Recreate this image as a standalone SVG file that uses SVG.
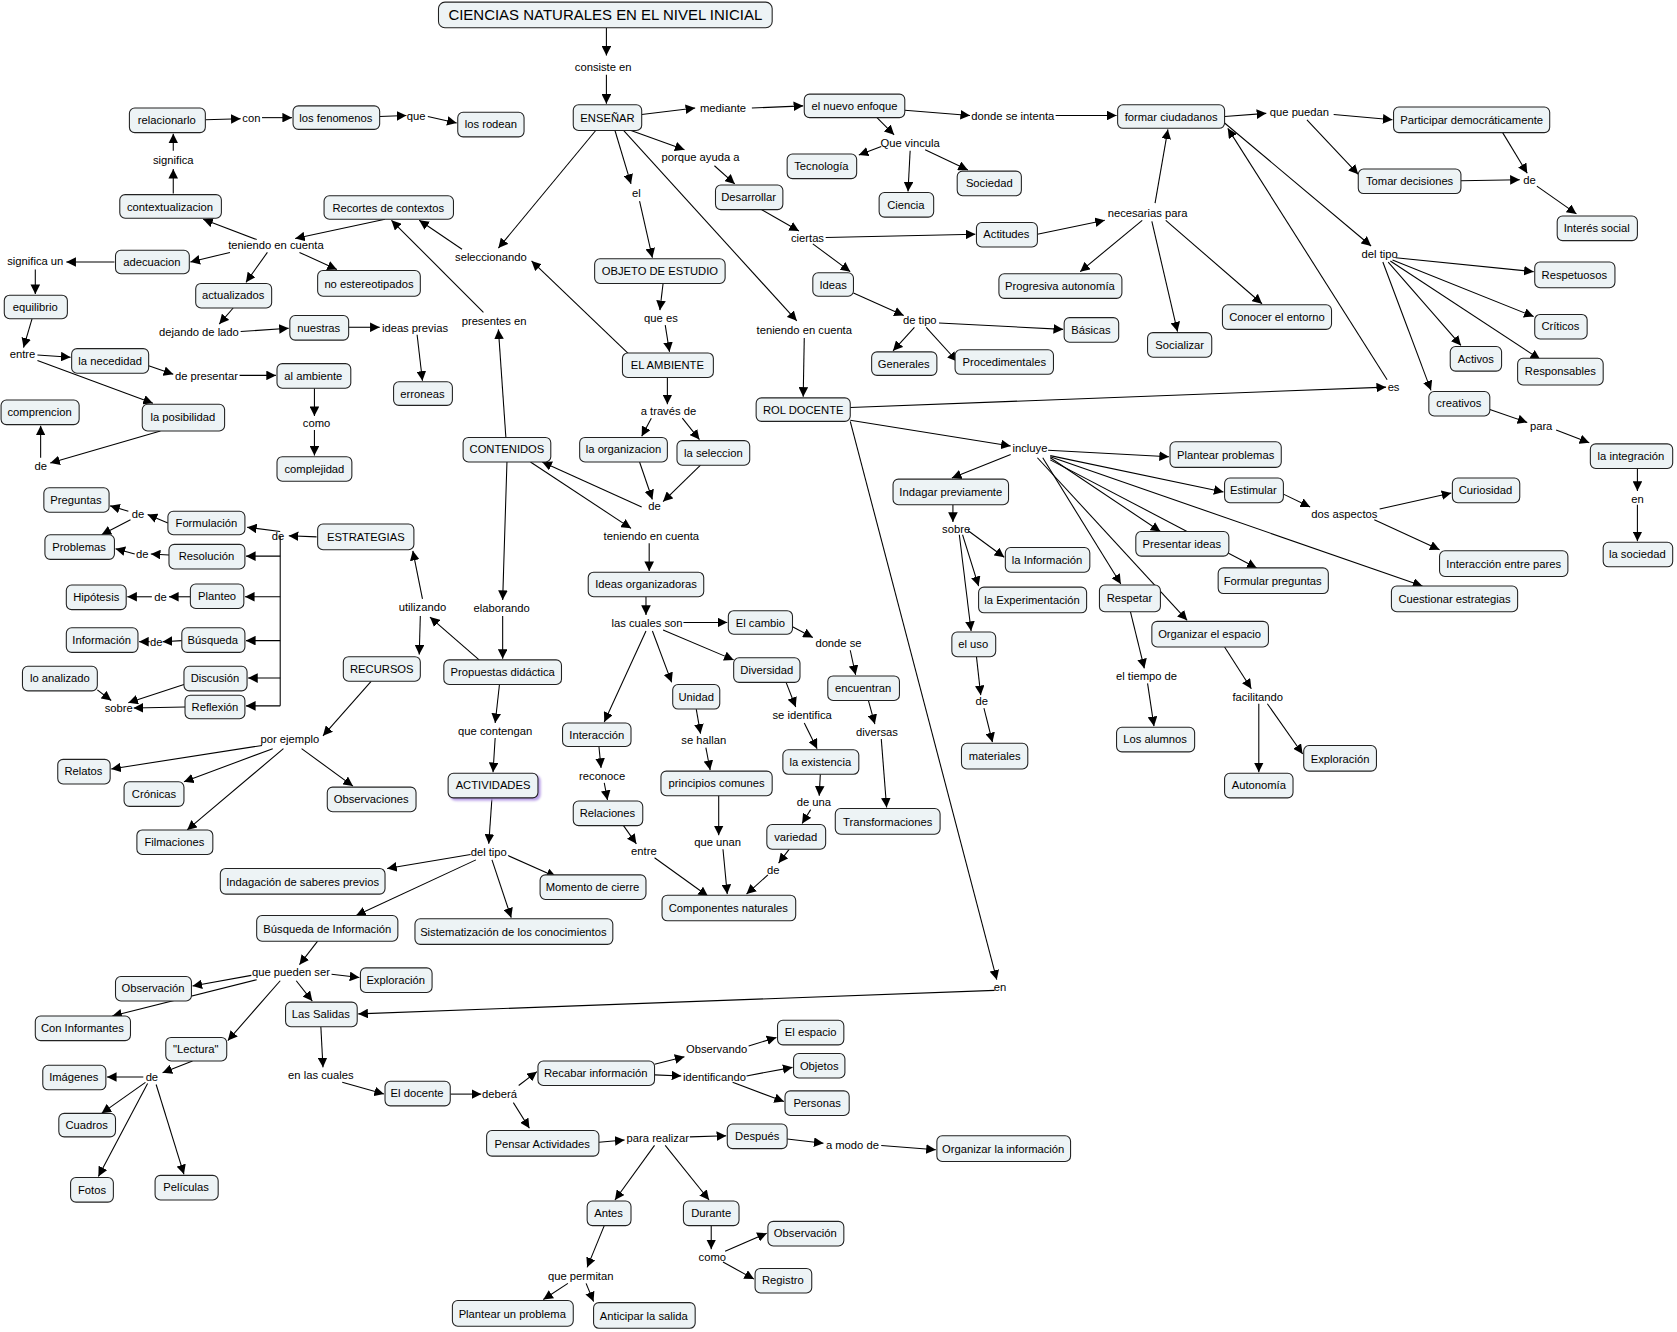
<svg xmlns="http://www.w3.org/2000/svg" width="1677" height="1332" viewBox="0 0 1677 1332">
<defs>
<style>
.n rect{fill:#edf3f5;stroke:#222;stroke-width:1;}
text{font-family:"Liberation Sans",Arial,sans-serif;font-size:10.5px;fill:#000;text-anchor:middle;}
.t{font-size:14px;}
.e line{stroke:#000;stroke-width:1;marker-end:url(#a);}
.l text{font-size:10.5px;}
</style>
<marker id="a" viewBox="0 0 10 10" refX="10" refY="5" markerWidth="9" markerHeight="9" markerUnits="userSpaceOnUse" orient="auto"><path d="M0,0L10,5L0,10z" fill="#000"/></marker>
</defs>
<rect width="1677" height="1332" fill="#fff"/>
<g transform="scale(1.0695)">
<g class="e">
<line x1="567" y1="26" x2="567" y2="52"/><line x1="567" y1="70" x2="567" y2="97"/>
<line x1="600" y1="107" x2="650" y2="101"/><line x1="703" y1="101" x2="751" y2="99"/>
<line x1="820" y1="110" x2="836" y2="126"/><line x1="824" y1="137" x2="803" y2="145"/>
<line x1="851" y1="141" x2="849" y2="179"/><line x1="865" y1="140" x2="905" y2="159"/>
<line x1="846" y1="103" x2="907" y2="108"/><line x1="987" y1="108" x2="1044" y2="108"/>
<line x1="1145" y1="109" x2="1184" y2="106"/><line x1="1247" y1="107" x2="1302" y2="112"/>
<line x1="1222" y1="112" x2="1270" y2="163"/><line x1="1405" y1="124" x2="1428" y2="162"/>
<line x1="1366" y1="169" x2="1421" y2="168"/><line x1="1437" y1="174" x2="1474" y2="200"/>
<line x1="1145" y1="115" x2="1282" y2="230"/><line x1="1305" y1="241" x2="1434" y2="254"/>
<line x1="1302" y1="243" x2="1434" y2="296"/><line x1="1298" y1="245" x2="1366" y2="323"/>
<line x1="1300" y1="244" x2="1440" y2="336"/><line x1="1293" y1="245" x2="1338" y2="365"/>
<line x1="1393" y1="383" x2="1428" y2="395"/><line x1="1455" y1="402" x2="1486" y2="414"/>
<line x1="1531" y1="438" x2="1531" y2="459"/><line x1="1531" y1="472" x2="1531" y2="506"/>
<line x1="795" y1="381" x2="1296" y2="362"/><line x1="1297" y1="355" x2="1148" y2="120"/>
<line x1="1080" y1="190" x2="1092" y2="121"/>
<line x1="590" y1="122" x2="640" y2="140"/><line x1="668" y1="155" x2="687" y2="172"/>
<line x1="712" y1="196" x2="747" y2="216"/><line x1="772" y1="222" x2="912" y2="219"/>
<line x1="760" y1="228" x2="795" y2="254"/><line x1="970" y1="219" x2="1033" y2="206"/>
<line x1="1068" y1="206" x2="1010" y2="254"/><line x1="1077" y1="207" x2="1101" y2="310"/>
<line x1="1090" y1="206" x2="1180" y2="284"/><line x1="798" y1="274" x2="845" y2="295"/>
<line x1="878" y1="302" x2="994" y2="308"/><line x1="855" y1="306" x2="835" y2="328"/>
<line x1="866" y1="306" x2="895" y2="338"/>
<line x1="575" y1="122" x2="590" y2="172"/><line x1="598" y1="188" x2="610" y2="241"/>
<line x1="620" y1="265" x2="617" y2="290"/><line x1="622" y1="304" x2="626" y2="329"/>
<line x1="624" y1="353" x2="624" y2="378"/><line x1="609" y1="391" x2="600" y2="408"/>
<line x1="638" y1="391" x2="654" y2="411"/><line x1="598" y1="432" x2="610" y2="467"/>
<line x1="655" y1="435" x2="620" y2="469"/><line x1="600" y1="474" x2="507" y2="432"/>
<line x1="496" y1="432" x2="590" y2="494"/><line x1="607" y1="508" x2="607" y2="534"/>
<line x1="583" y1="122" x2="745" y2="300"/><line x1="752" y1="316" x2="751" y2="371"/>
<line x1="557" y1="122" x2="466" y2="232"/><line x1="590" y1="333" x2="497" y2="244"/>
<line x1="473" y1="409" x2="466" y2="308"/><line x1="452" y1="292" x2="366" y2="206"/>
<line x1="432" y1="233" x2="392" y2="206"/>
<line x1="360" y1="205" x2="276" y2="223"/><line x1="240" y1="224" x2="190" y2="205"/>
<line x1="215" y1="236" x2="178" y2="245"/><line x1="250" y1="236" x2="230" y2="264"/>
<line x1="280" y1="236" x2="315" y2="252"/>
<line x1="162" y1="181" x2="162" y2="158"/><line x1="162" y1="141" x2="162" y2="125"/>
<line x1="192" y1="112" x2="225" y2="111"/><line x1="245" y1="110" x2="273" y2="110"/>
<line x1="355" y1="109" x2="380" y2="108"/><line x1="400" y1="109" x2="427" y2="115"/>
<line x1="107" y1="245" x2="62" y2="245"/><line x1="33" y1="252" x2="33" y2="275"/>
<line x1="218" y1="288" x2="205" y2="303"/><line x1="225" y1="310" x2="270" y2="307"/>
<line x1="326" y1="306" x2="355" y2="306"/><line x1="390" y1="313" x2="395" y2="356"/>
<line x1="30" y1="298" x2="22" y2="325"/><line x1="35" y1="332" x2="66" y2="334"/>
<line x1="35" y1="337" x2="143" y2="377"/><line x1="139" y1="342" x2="162" y2="350"/>
<line x1="224" y1="351" x2="258" y2="351"/><line x1="294" y1="363" x2="294" y2="389"/>
<line x1="294" y1="402" x2="294" y2="426"/><line x1="150" y1="403" x2="47" y2="433"/>
<line x1="38" y1="428" x2="38" y2="398"/>
<line x1="296" y1="502" x2="270" y2="501"/>
<line x1="262" y1="497" x2="231" y2="493"/><line x1="262" y1="520" x2="230" y2="520"/>
<line x1="262" y1="558" x2="229" y2="558"/><line x1="262" y1="599" x2="230" y2="599"/>
<line x1="262" y1="634" x2="232" y2="634"/><line x1="262" y1="660" x2="230" y2="660"/>
<line x1="157" y1="489" x2="138" y2="481"/><line x1="120" y1="478" x2="103" y2="473"/>
<line x1="122" y1="486" x2="95" y2="500"/><line x1="158" y1="519" x2="141" y2="518"/>
<line x1="126" y1="518" x2="108" y2="513"/><line x1="178" y1="558" x2="158" y2="558"/>
<line x1="142" y1="558" x2="119" y2="558"/><line x1="170" y1="599" x2="152" y2="600"/>
<line x1="140" y1="600" x2="130" y2="600"/><line x1="172" y1="640" x2="120" y2="657"/>
<line x1="173" y1="661" x2="125" y2="662"/><line x1="91" y1="645" x2="104" y2="655"/>
<line x1="393" y1="576" x2="392" y2="612"/><line x1="395" y1="560" x2="386" y2="515"/>
<line x1="448" y1="617" x2="402" y2="577"/>
<line x1="474" y1="432" x2="470" y2="561"/><line x1="470" y1="576" x2="470" y2="616"/>
<line x1="467" y1="640" x2="463" y2="676"/><line x1="463" y1="690" x2="461" y2="722"/>
<line x1="347" y1="637" x2="302" y2="688"/><line x1="245" y1="697" x2="104" y2="719"/>
<line x1="255" y1="700" x2="172" y2="731"/><line x1="265" y1="700" x2="175" y2="776"/>
<line x1="282" y1="700" x2="330" y2="735"/>
<line x1="460" y1="746" x2="457" y2="789"/><line x1="440" y1="799" x2="362" y2="812"/>
<line x1="475" y1="800" x2="520" y2="820"/><line x1="445" y1="804" x2="333" y2="856"/>
<line x1="460" y1="804" x2="478" y2="858"/>
<line x1="297" y1="880" x2="280" y2="902"/><line x1="310" y1="911" x2="336" y2="914"/>
<line x1="235" y1="912" x2="180" y2="922"/><line x1="240" y1="916" x2="105" y2="950"/>
<line x1="277" y1="917" x2="292" y2="936"/><line x1="262" y1="917" x2="213" y2="973"/>
<line x1="795" y1="394" x2="932" y2="916"/><line x1="930" y1="926" x2="335" y2="948"/>
<line x1="300" y1="960" x2="302" y2="998"/><line x1="320" y1="1012" x2="359" y2="1023"/>
<line x1="421" y1="1023" x2="450" y2="1023"/><line x1="485" y1="1015" x2="502" y2="1002"/>
<line x1="480" y1="1031" x2="495" y2="1055"/>
<line x1="612" y1="995" x2="640" y2="988"/><line x1="700" y1="978" x2="726" y2="970"/>
<line x1="612" y1="1005" x2="637" y2="1006"/><line x1="698" y1="1006" x2="741" y2="998"/>
<line x1="685" y1="1012" x2="733" y2="1030"/>
<line x1="180" y1="992" x2="152" y2="1003"/><line x1="134" y1="1007" x2="100" y2="1007"/>
<line x1="136" y1="1012" x2="95" y2="1041"/><line x1="138" y1="1013" x2="92" y2="1100"/>
<line x1="146" y1="1014" x2="172" y2="1098"/>
<line x1="560" y1="1068" x2="584" y2="1066"/><line x1="645" y1="1063" x2="679" y2="1062"/>
<line x1="612" y1="1071" x2="575" y2="1122"/><line x1="622" y1="1071" x2="663" y2="1122"/>
<line x1="736" y1="1065" x2="770" y2="1069"/><line x1="824" y1="1071" x2="875" y2="1075"/>
<line x1="665" y1="1146" x2="665" y2="1168"/><line x1="678" y1="1170" x2="717" y2="1153"/>
<line x1="676" y1="1180" x2="705" y2="1196"/>
<line x1="565" y1="1146" x2="549" y2="1185"/><line x1="531" y1="1200" x2="508" y2="1215"/>
<line x1="548" y1="1200" x2="555" y2="1217"/>
<line x1="604" y1="558" x2="604" y2="575"/><line x1="639" y1="582" x2="680" y2="582"/>
<line x1="741" y1="586" x2="760" y2="596"/><line x1="795" y1="608" x2="800" y2="631"/>
<line x1="812" y1="655" x2="818" y2="677"/><line x1="824" y1="691" x2="829" y2="755"/>
<line x1="620" y1="589" x2="686" y2="617"/><line x1="735" y1="638" x2="744" y2="661"/>
<line x1="752" y1="676" x2="764" y2="700"/><line x1="767" y1="724" x2="766" y2="744"/>
<line x1="758" y1="757" x2="750" y2="770"/><line x1="738" y1="794" x2="728" y2="807"/>
<line x1="718" y1="818" x2="698" y2="836"/>
<line x1="610" y1="590" x2="628" y2="638"/><line x1="651" y1="663" x2="655" y2="686"/>
<line x1="660" y1="699" x2="664" y2="720"/><line x1="672" y1="744" x2="672" y2="781"/>
<line x1="676" y1="794" x2="680" y2="836"/>
<line x1="604" y1="590" x2="565" y2="675"/><line x1="560" y1="698" x2="562" y2="718"/>
<line x1="565" y1="732" x2="568" y2="748"/><line x1="583" y1="772" x2="595" y2="789"/>
<line x1="612" y1="802" x2="662" y2="838"/>
<line x1="795" y1="393" x2="945" y2="417"/><line x1="945" y1="425" x2="890" y2="447"/>
<line x1="980" y1="421" x2="1093" y2="427"/><line x1="982" y1="426" x2="1144" y2="460"/>
<line x1="982" y1="428" x2="1085" y2="497"/><line x1="982" y1="430" x2="1175" y2="531"/>
<line x1="982" y1="427" x2="1330" y2="548"/><line x1="975" y1="428" x2="1048" y2="546"/>
<line x1="970" y1="428" x2="1110" y2="580"/>
<line x1="1200" y1="462" x2="1225" y2="474"/><line x1="1290" y1="476" x2="1357" y2="461"/>
<line x1="1285" y1="486" x2="1346" y2="514"/>
<line x1="891" y1="472" x2="891" y2="488"/><line x1="905" y1="496" x2="939" y2="521"/>
<line x1="900" y1="500" x2="915" y2="548"/><line x1="897" y1="500" x2="908" y2="590"/>
<line x1="913" y1="614" x2="917" y2="650"/><line x1="920" y1="662" x2="928" y2="694"/>
<line x1="1057" y1="572" x2="1070" y2="625"/><line x1="1073" y1="639" x2="1079" y2="679"/>
<line x1="1145" y1="605" x2="1170" y2="644"/><line x1="1177" y1="658" x2="1177" y2="722"/>
<line x1="1185" y1="658" x2="1218" y2="705"/>
</g>
<path d="M262,501V660" stroke="#000" fill="none"/>
<g class="l">
<text x="564" y="66">consiste en</text><text x="676" y="105">mediante</text><text x="851" y="137">Que vincula</text>
<text x="947" y="112">donde se intenta</text><text x="1215" y="108">que puedan</text><text x="1430" y="172">de</text>
<text x="1290" y="241">del tipo</text><text x="1303" y="366">es</text><text x="1441" y="402">para</text><text x="1531" y="470">en</text>
<text x="655" y="151">porque ayuda a</text><text x="755" y="226">ciertas</text><text x="1073" y="203">necesarias para</text>
<text x="860" y="303">de tipo</text><text x="595" y="184">el</text><text x="618" y="301">que es</text><text x="625" y="388">a través de</text>
<text x="612" y="477">de</text><text x="609" y="505">teniendo en cuenta</text><text x="459" y="244">seleccionando</text>
<text x="462" y="304">presentes en</text><text x="752" y="312">teniendo en cuenta</text><text x="235" y="114">con</text>
<text x="389" y="112">que</text><text x="162" y="153">significa</text><text x="258" y="233">teniendo en cuenta</text>
<text x="33" y="248">significa un</text><text x="186" y="314">dejando de lado</text><text x="388" y="310">ideas previas</text>
<text x="21" y="335">entre</text><text x="193" y="355">de presentar</text><text x="296" y="399">como</text><text x="38" y="439">de</text>
<text x="129" y="484">de</text><text x="260" y="505">de</text><text x="133" y="522">de</text><text x="150" y="562">de</text>
<text x="146" y="604">de</text><text x="111" y="666">sobre</text><text x="395" y="571">utilizando</text><text x="469" y="572">elaborando</text>
<text x="271" y="695">por ejemplo</text><text x="463" y="687">que contengan</text><text x="457" y="800">del tipo</text>
<text x="272" y="913">que pueden ser</text><text x="300" y="1009">en las cuales</text><text x="142" y="1011">de</text>
<text x="467" y="1027">deberá</text><text x="670" y="985">Observando</text><text x="668" y="1011">identificando</text>
<text x="615" y="1068">para realizar</text><text x="797" y="1074">a modo de</text><text x="666" y="1179">como</text>
<text x="543" y="1197">que permitan</text><text x="605" y="586">las cuales son</text><text x="784" y="605">donde se</text>
<text x="750" y="672">se identifica</text><text x="820" y="688">diversas</text><text x="658" y="696">se hallan</text>
<text x="563" y="729">reconoce</text><text x="761" y="754">de una</text><text x="671" y="791">que unan</text><text x="602" y="799">entre</text>
<text x="723" y="817">de</text><text x="963" y="423">incluye</text><text x="894" y="498">sobre</text><text x="1257" y="484">dos aspectos</text>
<text x="1072" y="636">el tiempo de</text><text x="1176" y="655">facilitando</text><text x="935" y="927">en</text>
<text x="918" y="659">de</text>
</g>
<g class="n">
<g id="title"><rect x="410" y="2" width="312" height="24" rx="6"/><text class="t" x="566" y="19">CIENCIAS NATURALES EN EL NIVEL INICIAL</text></g>
<g id="n1"><rect x="536" y="98" width="64" height="24" rx="5"/><text x="568" y="114">ENSEÑAR</text></g>
<g id="n2"><rect x="752" y="88" width="94" height="22" rx="5"/><text x="799" y="103">el nuevo enfoque</text></g>
<g id="n3"><rect x="1045" y="98" width="100" height="22" rx="5"/><text x="1095" y="113">formar ciudadanos</text></g>
<g id="n4"><rect x="1303" y="100" width="146" height="24" rx="5"/><text x="1376" y="116">Participar democráticamente</text></g>
<g id="n5"><rect x="1270" y="158" width="96" height="23" rx="5"/><text x="1318" y="173">Tomar decisiones</text></g>
<g id="n6"><rect x="1456" y="202" width="75" height="23" rx="5"/><text x="1493" y="217">Interés social</text></g>
<g id="n7"><rect x="736" y="144" width="65" height="23" rx="5"/><text x="768" y="159">Tecnología</text></g>
<g id="n8"><rect x="895" y="160" width="60" height="23" rx="5"/><text x="925" y="175">Sociedad</text></g>
<g id="n9"><rect x="822" y="180" width="51" height="23" rx="5"/><text x="847" y="195">Ciencia</text></g>
<g id="n10"><rect x="669" y="173" width="63" height="23" rx="5"/><text x="700" y="188">Desarrollar</text></g>
<g id="n11"><rect x="913" y="208" width="57" height="23" rx="5"/><text x="941" y="223">Actitudes</text></g>
<g id="n12"><rect x="934" y="256" width="115" height="23" rx="5"/><text x="991" y="271">Progresiva autonomía</text></g>
<g id="n13"><rect x="1073" y="311" width="60" height="23" rx="5"/><text x="1103" y="326">Socializar</text></g>
<g id="n14"><rect x="1143" y="285" width="102" height="23" rx="5"/><text x="1194" y="300">Conocer el entorno</text></g>
<g id="n15"><rect x="760" y="255" width="38" height="22" rx="5"/><text x="779" y="270">Ideas</text></g>
<g id="n16"><rect x="995" y="297" width="51" height="23" rx="5"/><text x="1020" y="312">Básicas</text></g>
<g id="n17"><rect x="815" y="329" width="61" height="22" rx="5"/><text x="845" y="344">Generales</text></g>
<g id="n18"><rect x="893" y="327" width="92" height="23" rx="5"/><text x="939" y="342">Procedimentales</text></g>
<g id="n19"><rect x="556" y="242" width="122" height="23" rx="5"/><text x="617" y="257">OBJETO DE ESTUDIO</text></g>
<g id="n20"><rect x="582" y="330" width="85" height="23" rx="5"/><text x="624" y="345">EL AMBIENTE</text></g>
<g id="n21"><rect x="542" y="409" width="82" height="23" rx="5"/><text x="583" y="424">la organizacion</text></g>
<g id="n22"><rect x="633" y="412" width="68" height="23" rx="5"/><text x="667" y="427">la seleccion</text></g>
<g id="n23"><rect x="433" y="409" width="82" height="23" rx="5"/><text x="474" y="424">CONTENIDOS</text></g>
<g id="n24"><rect x="707" y="372" width="88" height="22" rx="5"/><text x="751" y="387">ROL DOCENTE</text></g>
<g id="n25"><rect x="121" y="101" width="71" height="23" rx="5"/><text x="156" y="116">relacionarlo</text></g>
<g id="n26"><rect x="274" y="99" width="81" height="22" rx="5"/><text x="314" y="114">los fenomenos</text></g>
<g id="n27"><rect x="428" y="105" width="62" height="23" rx="5"/><text x="459" y="120">los rodean</text></g>
<g id="n28"><rect x="112" y="182" width="95" height="22" rx="5"/><text x="159" y="197">contextualizacion</text></g>
<g id="n29"><rect x="303" y="183" width="121" height="22" rx="5"/><text x="363" y="198">Recortes de contextos</text></g>
<g id="n30"><rect x="108" y="234" width="69" height="22" rx="5"/><text x="142" y="249">adecuacion</text></g>
<g id="n31"><rect x="183" y="265" width="71" height="23" rx="5"/><text x="218" y="280">actualizados</text></g>
<g id="n32"><rect x="297" y="253" width="96" height="24" rx="5"/><text x="345" y="269">no estereotipados</text></g>
<g id="n33"><rect x="4" y="276" width="59" height="22" rx="5"/><text x="33" y="291">equilibrio</text></g>
<g id="n34"><rect x="271" y="295" width="55" height="23" rx="5"/><text x="298" y="310">nuestras</text></g>
<g id="n35"><rect x="368" y="357" width="55" height="22" rx="5"/><text x="395" y="372">erroneas</text></g>
<g id="n36"><rect x="67" y="326" width="72" height="23" rx="5"/><text x="103" y="341">la necedidad</text></g>
<g id="n37"><rect x="259" y="340" width="69" height="23" rx="5"/><text x="293" y="355">al ambiente</text></g>
<g id="n38"><rect x="133" y="378" width="77" height="25" rx="5"/><text x="171" y="394">la posibilidad</text></g>
<g id="n39"><rect x="1" y="374" width="73" height="23" rx="5"/><text x="37" y="389">comprencion</text></g>
<g id="n40"><rect x="259" y="427" width="70" height="23" rx="5"/><text x="294" y="442">complejidad</text></g>
<g id="n41"><rect x="41" y="456" width="61" height="23" rx="5"/><text x="71" y="471">Preguntas</text></g>
<g id="n42"><rect x="157" y="478" width="72" height="22" rx="5"/><text x="193" y="493">Formulación</text></g>
<g id="n43"><rect x="42" y="500" width="65" height="23" rx="5"/><text x="74" y="515">Problemas</text></g>
<g id="n44"><rect x="158" y="509" width="71" height="23" rx="5"/><text x="193" y="524">Resolución</text></g>
<g id="n45"><rect x="297" y="490" width="90" height="24" rx="5"/><text x="342" y="506">ESTRATEGIAS</text></g>
<g id="n46"><rect x="62" y="547" width="56" height="23" rx="5"/><text x="90" y="562">Hipótesis</text></g>
<g id="n47"><rect x="178" y="546" width="50" height="23" rx="5"/><text x="203" y="561">Planteo</text></g>
<g id="n48"><rect x="62" y="587" width="67" height="23" rx="5"/><text x="95" y="602">Información</text></g>
<g id="n49"><rect x="170" y="587" width="59" height="23" rx="5"/><text x="199" y="602">Búsqueda</text></g>
<g id="n50"><rect x="172" y="623" width="59" height="23" rx="5"/><text x="201" y="638">Discusión</text></g>
<g id="n51"><rect x="21" y="623" width="70" height="23" rx="5"/><text x="56" y="638">lo analizado</text></g>
<g id="n52"><rect x="173" y="650" width="56" height="22" rx="5"/><text x="201" y="665">Reflexión</text></g>
<g id="n53"><rect x="321" y="614" width="72" height="23" rx="5"/><text x="357" y="629">RECURSOS</text></g>
<g id="n54"><rect x="415" y="617" width="110" height="23" rx="5"/><text x="470" y="632">Propuestas didáctica</text></g>
<g id="n55"><rect x="54" y="710" width="49" height="23" rx="5"/><text x="78" y="725">Relatos</text></g>
<g id="n56"><rect x="116" y="731" width="56" height="23" rx="5"/><text x="144" y="746">Crónicas</text></g>
<g id="n57"><rect x="306" y="736" width="83" height="23" rx="5"/><text x="347" y="751">Observaciones</text></g>
<g id="n58"><rect x="128" y="776" width="71" height="23" rx="5"/><text x="163" y="791">Filmaciones</text></g>
<g id="n59"><rect x="419" y="723" width="84" height="23" rx="5" style="stroke:#222;filter:drop-shadow(2px 2px 1px #b59ae6)"/><text x="461" y="738">ACTIVIDADES</text></g>
<g id="n60"><rect x="206" y="812" width="154" height="24" rx="5"/><text x="283" y="828">Indagación de saberes previos</text></g>
<g id="n61"><rect x="505" y="818" width="99" height="23" rx="5"/><text x="554" y="833">Momento de cierre</text></g>
<g id="n62"><rect x="240" y="856" width="132" height="24" rx="5"/><text x="306" y="872">Búsqueda de Información</text></g>
<g id="n63"><rect x="388" y="859" width="185" height="24" rx="5"/><text x="480" y="875">Sistematización de los conocimientos</text></g>
<g id="n64"><rect x="108" y="913" width="71" height="23" rx="5"/><text x="143" y="928">Observación</text></g>
<g id="n65"><rect x="337" y="905" width="67" height="23" rx="5"/><text x="370" y="920">Exploración</text></g>
<g id="n66"><rect x="33" y="950" width="89" height="23" rx="5"/><text x="77" y="965">Con Informantes</text></g>
<g id="n67"><rect x="267" y="937" width="67" height="23" rx="5"/><text x="300" y="952">Las Salidas</text></g>
<g id="n68"><rect x="155" y="970" width="57" height="22" rx="5"/><text x="183" y="985">"Lectura"</text></g>
<g id="n69"><rect x="40" y="996" width="59" height="23" rx="5"/><text x="69" y="1011">Imágenes</text></g>
<g id="n70"><rect x="55" y="1041" width="53" height="22" rx="5"/><text x="81" y="1056">Cuadros</text></g>
<g id="n71"><rect x="66" y="1101" width="40" height="23" rx="5"/><text x="86" y="1116">Fotos</text></g>
<g id="n72"><rect x="145" y="1099" width="59" height="23" rx="5"/><text x="174" y="1114">Películas</text></g>
<g id="n73"><rect x="360" y="1011" width="61" height="23" rx="5"/><text x="390" y="1026">El docente</text></g>
<g id="n74"><rect x="503" y="992" width="109" height="23" rx="5"/><text x="557" y="1007">Recabar información</text></g>
<g id="n75"><rect x="727" y="954" width="62" height="23" rx="5"/><text x="758" y="969">El espacio</text></g>
<g id="n76"><rect x="742" y="985" width="48" height="23" rx="5"/><text x="766" y="1000">Objetos</text></g>
<g id="n77"><rect x="734" y="1020" width="60" height="23" rx="5"/><text x="764" y="1035">Personas</text></g>
<g id="n78"><rect x="455" y="1057" width="105" height="24" rx="5"/><text x="507" y="1073">Pensar Actividades</text></g>
<g id="n79"><rect x="680" y="1051" width="56" height="23" rx="5"/><text x="708" y="1066">Después</text></g>
<g id="n80"><rect x="876" y="1062" width="125" height="24" rx="5"/><text x="938" y="1078">Organizar la información</text></g>
<g id="n81"><rect x="549" y="1123" width="41" height="23" rx="5"/><text x="569" y="1138">Antes</text></g>
<g id="n82"><rect x="639" y="1123" width="52" height="23" rx="5"/><text x="665" y="1138">Durante</text></g>
<g id="n83"><rect x="718" y="1142" width="71" height="23" rx="5"/><text x="753" y="1157">Observación</text></g>
<g id="n84"><rect x="706" y="1186" width="53" height="23" rx="5"/><text x="732" y="1201">Registro</text></g>
<g id="n85"><rect x="423" y="1216" width="113" height="24" rx="5"/><text x="479" y="1232">Plantear un problema</text></g>
<g id="n86"><rect x="555" y="1218" width="95" height="24" rx="5"/><text x="602" y="1234">Anticipar la salida</text></g>
<g id="n87"><rect x="550" y="535" width="108" height="23" rx="5"/><text x="604" y="550">Ideas organizadoras</text></g>
<g id="n88"><rect x="681" y="571" width="60" height="22" rx="5"/><text x="711" y="586">El cambio</text></g>
<g id="n89"><rect x="686" y="615" width="62" height="23" rx="5"/><text x="717" y="630">Diversidad</text></g>
<g id="n90"><rect x="774" y="632" width="67" height="23" rx="5"/><text x="807" y="647">encuentran</text></g>
<g id="n91"><rect x="629" y="640" width="44" height="23" rx="5"/><text x="651" y="655">Unidad</text></g>
<g id="n92"><rect x="526" y="676" width="64" height="22" rx="5"/><text x="558" y="691">Interacción</text></g>
<g id="n93"><rect x="732" y="701" width="71" height="23" rx="5"/><text x="767" y="716">la existencia</text></g>
<g id="n94"><rect x="618" y="721" width="104" height="23" rx="5"/><text x="670" y="736">principios comunes</text></g>
<g id="n95"><rect x="536" y="749" width="65" height="23" rx="5"/><text x="568" y="764">Relaciones</text></g>
<g id="n96"><rect x="717" y="771" width="55" height="23" rx="5"/><text x="744" y="786">variedad</text></g>
<g id="n97"><rect x="781" y="756" width="98" height="24" rx="5"/><text x="830" y="772">Transformaciones</text></g>
<g id="n98"><rect x="619" y="837" width="125" height="24" rx="5"/><text x="681" y="853">Componentes naturales</text></g>
<g id="n99"><rect x="835" y="448" width="108" height="24" rx="5"/><text x="889" y="464">Indagar previamente</text></g>
<g id="n100"><rect x="940" y="512" width="79" height="23" rx="5"/><text x="979" y="527">la Información</text></g>
<g id="n101"><rect x="915" y="549" width="101" height="24" rx="5"/><text x="965" y="565">la Experimentación</text></g>
<g id="n102"><rect x="890" y="591" width="41" height="23" rx="5"/><text x="910" y="606">el uso</text></g>
<g id="n103"><rect x="899" y="695" width="62" height="24" rx="5"/><text x="930" y="711">materiales</text></g>
<g id="n104"><rect x="1028" y="547" width="57" height="25" rx="5"/><text x="1056" y="563">Respetar</text></g>
<g id="n105"><rect x="1077" y="581" width="109" height="24" rx="5"/><text x="1131" y="597">Organizar el espacio</text></g>
<g id="n106"><rect x="1044" y="680" width="73" height="23" rx="5"/><text x="1080" y="695">Los alumnos</text></g>
<g id="n107"><rect x="1145" y="723" width="64" height="23" rx="5"/><text x="1177" y="738">Autonomía</text></g>
<g id="n108"><rect x="1219" y="697" width="68" height="24" rx="5"/><text x="1253" y="713">Exploración</text></g>
<g id="n109"><rect x="1094" y="413" width="104" height="24" rx="5"/><text x="1146" y="429">Plantear problemas</text></g>
<g id="n110"><rect x="1145" y="447" width="55" height="23" rx="5"/><text x="1172" y="462">Estimular</text></g>
<g id="n111"><rect x="1062" y="497" width="87" height="23" rx="5"/><text x="1105" y="512">Presentar ideas</text></g>
<g id="n112"><rect x="1139" y="531" width="103" height="24" rx="5"/><text x="1190" y="547">Formular preguntas</text></g>
<g id="n113"><rect x="1301" y="548" width="118" height="24" rx="5"/><text x="1360" y="564">Cuestionar estrategias</text></g>
<g id="n114"><rect x="1358" y="447" width="63" height="23" rx="5"/><text x="1389" y="462">Curiosidad</text></g>
<g id="n115"><rect x="1346" y="515" width="120" height="24" rx="5"/><text x="1406" y="531">Interacción entre pares</text></g>
<g id="n116"><rect x="1435" y="245" width="75" height="24" rx="5"/><text x="1472" y="261">Respetuosos</text></g>
<g id="n117"><rect x="1435" y="294" width="49" height="23" rx="5"/><text x="1459" y="309">Críticos</text></g>
<g id="n118"><rect x="1356" y="324" width="48" height="23" rx="5"/><text x="1380" y="339">Activos</text></g>
<g id="n119"><rect x="1419" y="335" width="80" height="25" rx="5"/><text x="1459" y="351">Responsables</text></g>
<g id="n120"><rect x="1336" y="366" width="57" height="23" rx="5"/><text x="1364" y="381">creativos</text></g>
<g id="n121"><rect x="1487" y="415" width="77" height="23" rx="5"/><text x="1525" y="430">la integración</text></g>
<g id="n122"><rect x="1499" y="507" width="65" height="23" rx="5"/><text x="1531" y="522">la sociedad</text></g>
</g>
</g>
</svg>
